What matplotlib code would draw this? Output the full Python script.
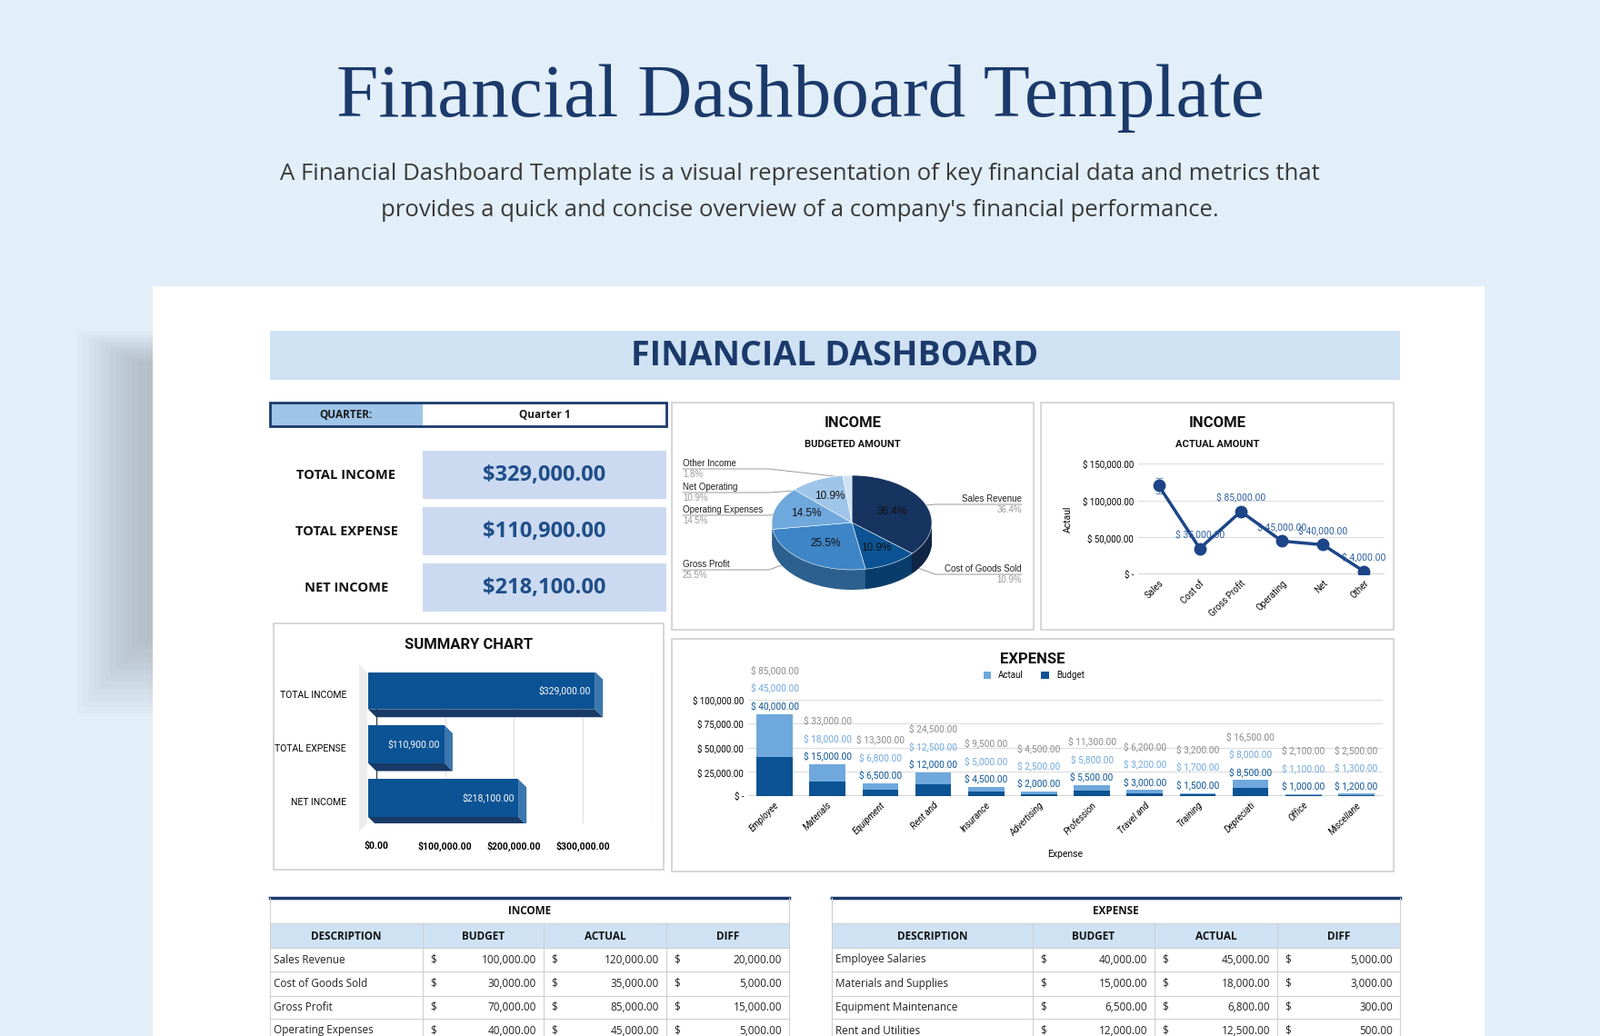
import numpy as np
import matplotlib
matplotlib.use("Agg")
import matplotlib.pyplot as plt
from matplotlib.patches import Rectangle, Wedge, Polygon
from matplotlib.ticker import FuncFormatter

W, H = 1760, 1140

# ---- data ----
kpi_labels = ["TOTAL INCOME", "TOTAL EXPENSE", "NET INCOME"]
kpi_values = [329000, 110900, 218100]

pie_labels = ["Sales Revenue", "Cost of Goods Sold", "Gross Profit",
              "Operating Expenses", "Net Operating", "Other Income"]
pie_budget = [100000, 30000, 70000, 40000, 30000, 5000]
pie_colors = ["#16345f", "#0b5394", "#3d85c6", "#6fa8dc", "#9fc5e8", "#cfe2f3"]

line_labels = ["Sales", "Cost of", "Gross Profit", "Operating", "Net", "Other"]
line_actual = [120000, 35000, 85000, 45000, 40000, 4000]

exp_labels = ["Employee", "Materials", "Equipment", "Rent and", "Insurance",
              "Advertising", "Profession", "Travel and", "Training",
              "Depreciati", "Office", "Miscellane"]
exp_budget = [40000, 15000, 6500, 12000, 4500, 2000, 5500, 3000, 1500, 8500, 1000, 1200]
exp_actual = [45000, 18000, 6800, 12500, 5000, 2500, 5800, 3200, 1700, 8000, 1100, 1300]

inc_rows = ["Sales Revenue", "Cost of Goods Sold", "Gross Profit", "Operating Expenses"]
inc_budget = [100000, 30000, 70000, 40000]
inc_actual = [120000, 35000, 85000, 45000]
exp_rows = ["Employee Salaries", "Materials and Supplies",
            "Equipment Maintenance", "Rent and Utilities"]

NAVY = "#1b3a6b"


def money(v):
    return "$ -" if v == 0 else f"$ {v:,.2f}"


def ax_px(x0, y0, x1, y1):
    return fig.add_axes([x0 / W, 1 - y1 / H, (x1 - x0) / W, (y1 - y0) / H])


def darken(c, f=0.7):
    r, g, b = matplotlib.colors.to_rgb(c)
    return (r * f, g * f, b * f)


fig = plt.figure(figsize=(W / 100, H / 100), dpi=100)
fig.patch.set_facecolor("#e2eff9")

base = fig.add_axes([0, 0, 1, 1])
base.set_xlim(0, W)
base.set_ylim(H, 0)
base.axis("off")

# header text
base.text(880, 108, "Financial Dashboard Template", ha="center", va="center",
          fontsize=60, color=NAVY, family="Liberation Serif")
base.text(880, 192, "A Financial Dashboard Template is a visual representation of key financial data and metrics that",
          ha="center", va="center", fontsize=18.5, color="#3a3a3a", family="Open Sans")
base.text(880, 232, "provides a quick and concise overview of a company's financial performance.",
          ha="center", va="center", fontsize=18.5, color="#3a3a3a", family="Open Sans")

# card shadow + card
for i in range(12):
    base.add_patch(Rectangle((85 + i * 6, 365 + i * 3), 100, 420 - i * 10, color="#6f7780",
                             alpha=0.035, lw=0))
base.add_patch(Rectangle((168, 315), 1465, 830, color="white", lw=0))

# banner
base.add_patch(Rectangle((297, 364), 1243, 54, color="#cfe2f3", lw=0))
base.text(918, 392, "FINANCIAL DASHBOARD", ha="center", va="center",
          fontsize=27, weight="bold", color=NAVY, family="Open Sans")

# quarter selector
base.add_patch(Rectangle((297, 443), 168, 26, color="#9fc5e8", lw=0))
base.add_patch(Rectangle((297, 443), 436, 26, fill=False, ec=NAVY, lw=2))
base.text(381, 457, "QUARTER:", ha="center", va="center", fontsize=8.5,
          weight="bold", color="#1a1a1a", family="Open Sans")
base.text(599, 457, "Quarter 1", ha="center", va="center", fontsize=8.5,
          weight="bold", color="#1a1a1a", family="Open Sans")

# KPI boxes
for i, (lab, val) in enumerate(zip(kpi_labels, kpi_values)):
    y0 = 496 + i * 62
    base.add_patch(Rectangle((465, y0), 268, 53, color="#cbdaf1", lw=0))
    base.text(381, y0 + 27, lab, ha="center", va="center", fontsize=10.5,
              weight="bold", color="#111", family="Open Sans")
    base.text(599, y0 + 27, f"${val:,.2f}", ha="center", va="center", fontsize=17,
              weight="bold", color="#1f4e89", family="Open Sans")

# panels
for (x0, y0, x1, y1) in [(301, 686, 730, 957), (739, 443, 1137, 693),
                         (1145, 443, 1533, 693), (739, 703, 1533, 959)]:
    base.add_patch(Rectangle((x0, y0), x1 - x0, y1 - y0, fill=False,
                             ec="#cfcfcf", lw=1.2))

title_kw = dict(ha="center", va="center", weight="bold", color="#111", family="Roboto")
base.text(516, 709, "SUMMARY CHART", fontsize=12, **title_kw)
base.text(938, 466, "INCOME", fontsize=12, **title_kw)
base.text(938, 489, "BUDGETED AMOUNT", fontsize=8, **title_kw)
base.text(1339, 466, "INCOME", fontsize=12, **title_kw)
base.text(1339, 489, "ACTUAL AMOUNT", fontsize=8, **title_kw)
base.text(1136, 725, "EXPENSE", fontsize=12, **title_kw)

# ---- summary chart ----
ax = ax_px(395, 740, 717, 906)
ax.set_xlim(-25000, 400000)
ax.set_ylim(2.4, -0.4)
ax.patch.set_alpha(0)
for s in ax.spines.values():
    s.set_visible(False)
for xv in [100000, 200000, 300000, 400000]:
    ax.axvline(xv, color="#e3e3e3", lw=1, zorder=0)
ax.axvline(0, color="#444", lw=1, zorder=0)
ax.add_patch(Polygon([(-25000, -0.55), (-13000, -0.4), (-13000, 2.4), (-25000, 2.55)],
                     closed=True, color="#ededed", lw=0, zorder=0, clip_on=False))
dx, dy = 12000, 0.15
for i, v in enumerate(kpi_values):
    top, bot = i - 0.42, i + 0.28
    ax.add_patch(Polygon([(-12000, bot), (v - 12000, bot), (v, bot + dy), (0, bot + dy)],
                         color="#173a66", lw=0, zorder=2))
    ax.add_patch(Polygon([(v - 12000, top), (v, top + dy), (v, bot + dy), (v - 12000, bot)],
                         color="#3b77ae", lw=0, zorder=2))
    ax.add_patch(Rectangle((-12000, top), v, bot - top, color="#0b5394", lw=0, zorder=3))
    ax.text(v - 18000, i - 0.07, f"${v:,.2f}", ha="right", va="center",
            fontsize=7.5, color="white", family="Roboto", zorder=4)
ax.set_yticks(range(3))
ax.set_yticklabels(kpi_labels, fontsize=7.5, family="Roboto")
ax.set_xticks([0, 100000, 200000, 300000])
ax.set_xticklabels(["$0.00", "$100,000.00", "$200,000.00", "$300,000.00"],
                   fontsize=7.5, weight="bold", family="Roboto")
ax.tick_params(length=0, pad=14)
ax.tick_params(axis="y", pad=10)

# ---- pie chart ----
cx, cy, rx, ry, depth = 937, 575, 88, 52, 22
pax = ax_px(cx - rx, cy - ry, cx + rx, cy + ry + depth)
d = depth / ry
pax.set_xlim(-1, 1)
pax.set_ylim(-1 - d, 1)
pax.axis("off")
total = sum(pie_budget)
spans = [v / total * 360 for v in pie_budget]
starts = 90 - np.concatenate([[0], np.cumsum(spans)[:-1]])
for k in np.linspace(-d, 0, 16)[:-1]:
    for a, s, c in zip(starts, spans, pie_colors):
        pax.add_patch(Wedge((0, k), 1, a - s, a, color=darken(c, 0.72), lw=0))
for a, s, c in zip(starts, spans, pie_colors):
    pax.add_patch(Wedge((0, 0), 1, a - s, a, color=c, ec="white", lw=0.4))
pct_pos = {0: 0.55, 1: 0.62, 2: 0.55, 3: 0.6, 4: 0.62}
for i, (a, s) in enumerate(zip(starts, spans)):
    if i in pct_pos:
        m = np.radians(a - s / 2)
        r = pct_pos[i]
        pax.text(r * np.cos(m), r * np.sin(m), f"{s / 3.6:.1f}%", ha="center",
                 va="center", fontsize=8.5, color="#111", family="Liberation Sans")

label_pos = {0: (1124, 554, "right"), 1: (1124, 631, "right"), 2: (751, 626, "left"),
             3: (751, 566, "left"), 4: (751, 541, "left"), 5: (751, 515, "left")}
for i, (a, s) in enumerate(zip(starts, spans)):
    m = np.radians(a - s / 2)
    r = 0.8 if i < 5 else 0.95
    px, py = cx + r * rx * np.cos(m), cy - r * ry * np.sin(m)
    lx, ly, side = label_pos[i]
    base.text(lx, ly, pie_labels[i], ha=side, va="bottom", fontsize=7,
              color="#222", family="Liberation Sans")
    base.text(lx, ly + 2, f"{s / 3.6:.1f}%", ha=side, va="top", fontsize=7,
              color="#9a9a9a", family="Liberation Sans")
    ex = lx + (95 if side == "left" else -95)
    ex = max(ex, 751 + 5)
    base.plot([lx, ex, px], [ly + 1, ly + 1, py], color="#9a9a9a", lw=0.7)
    base.plot(px, py, "o", ms=2.5, color="#bbbbbb")

# ---- income line chart ----
lax = ax_px(1252, 510, 1523, 632)
x = np.arange(len(line_actual))
lax.set_xlim(-0.5, len(x) - 0.5)
lax.set_ylim(0, 150000)
lax.patch.set_alpha(0)
for s in lax.spines.values():
    s.set_visible(False)
lax.axhline(0, color="#333", lw=1)
lax.set_yticks([0, 50000, 100000, 150000])
lax.yaxis.set_major_formatter(FuncFormatter(lambda v, p: money(v)))
lax.grid(axis="y", color="#dddddd", lw=0.8)
lax.set_axisbelow(True)
lax.errorbar(x[:1], line_actual[:1], yerr=10000, fmt="none", ecolor="#7f9fc9",
             capsize=3, lw=0.8)
lax.plot(x, line_actual, "-o", color="#1c4587", lw=2.5, ms=9)
for xi, v in zip(x[1:], line_actual[1:]):
    lax.annotate(money(v), (xi, v), xytext=(0, 9), textcoords="offset points",
                 ha="center", fontsize=7.5, color="#2f5fa0", family="Roboto")
lax.set_xticks(x)
lax.set_xticklabels(line_labels, rotation=45, ha="right", rotation_mode="anchor",
                    fontsize=7, family="Roboto")
for t in lax.get_yticklabels():
    t.set_fontsize(7)
    t.set_family("Roboto")
lax.tick_params(length=0)
lax.set_ylabel("Actaul", fontsize=7.5, family="Roboto", labelpad=8)

# ---- expense chart ----
eax = ax_px(823, 759, 1521, 876)
ex_ = np.arange(len(exp_labels))
eax.set_xlim(-0.5, len(ex_) - 0.5)
eax.set_ylim(0, 110000)
eax.patch.set_alpha(0)
for s in eax.spines.values():
    s.set_visible(False)
eax.axhline(0, color="#333", lw=1)
eax.set_yticks([0, 25000, 50000, 75000, 100000])
eax.yaxis.set_major_formatter(FuncFormatter(lambda v, p: money(v)))
eax.grid(axis="y", color="#dddddd", lw=0.8)
eax.set_axisbelow(True)
eax.bar(ex_, exp_budget, 0.68, color="#0b5394", label="Budget")
eax.bar(ex_, exp_actual, 0.68, bottom=exp_budget, color="#6fa8dc", label="Actaul")
for xi, b, a in zip(ex_, exp_budget, exp_actual):
    top = b + a
    for off, txt, col in [(4, money(b), "#0b5394"), (18, money(a), "#6fa8dc"),
                          (32, money(top), "#8a8a8a")]:
        eax.annotate(txt, (xi, top), xytext=(0, off), textcoords="offset points",
                     ha="center", fontsize=7.3, color=col, family="Roboto",
                     annotation_clip=False)
eax.set_xticks(ex_)
eax.set_xticklabels(exp_labels, rotation=45, ha="right", rotation_mode="anchor",
                    fontsize=7, style="italic", family="Roboto")
for t in eax.get_yticklabels():
    t.set_fontsize(7)
    t.set_family("Roboto")
eax.tick_params(length=0)
eax.set_xlabel("Expense", fontsize=7.5, family="Roboto", labelpad=10)
h, l = eax.get_legend_handles_labels()
eax.legend(h[::-1], l[::-1], loc="lower center", bbox_to_anchor=(0.45, 1.02), ncol=2,
           frameon=False, handlelength=0.9, handleheight=0.9,
           prop={"family": "Roboto", "size": 7})


# ---- tables ----
def draw_table(cols, title, rows, budget, actual):
    row_y = [988, 1016, 1043, 1069, 1096, 1121, 1147]
    x0, x1 = cols[0], cols[-1]
    base.add_patch(Rectangle((x0, 1016), x1 - x0, 27, color="#cfe2f3", lw=0))
    base.plot([x0, x1], [988, 988], color=NAVY, lw=2.5)
    for y in row_y[1:]:
        base.plot([x0, x1], [y, y], color="#d0d0d0", lw=0.8)
    for cxx in cols:
        base.plot([cxx, cxx], [988 if cxx in (x0, x1) else 1016, 1147],
                  color="#d0d0d0", lw=0.8)
    base.text((x0 + x1) / 2, 1002, title, ha="center", va="center", fontsize=8.5,
              weight="bold", family="Open Sans", color="#111")
    for j, head in enumerate(["DESCRIPTION", "BUDGET", "ACTUAL", "DIFF"]):
        base.text((cols[j] + cols[j + 1]) / 2, 1030, head, ha="center", va="center",
                  fontsize=8.5, weight="bold", family="Open Sans", color="#111")
    for i, (name, b, a) in enumerate(zip(rows, budget, actual)):
        yc = (row_y[i + 2] + row_y[i + 3]) / 2
        base.text(cols[0] + 4, yc, name, ha="left", va="center", fontsize=8.5,
                  family="Open Sans", color="#222")
        for j, v in enumerate([b, a, a - b]):
            base.text(cols[j + 1] + 8, yc, "$", ha="left", va="center", fontsize=8.5,
                      family="Open Sans", color="#222")
            base.text(cols[j + 2] - 8, yc, f"{v:,.2f}", ha="right", va="center",
                      fontsize=8.5, family="Open Sans", color="#222")


draw_table([297, 465, 598, 733, 868], "INCOME", inc_rows, inc_budget, inc_actual)
draw_table([915, 1136, 1270, 1405, 1540], "EXPENSE", exp_rows, exp_budget[:4], exp_actual[:4])

fig.savefig("out.png", dpi=100)
